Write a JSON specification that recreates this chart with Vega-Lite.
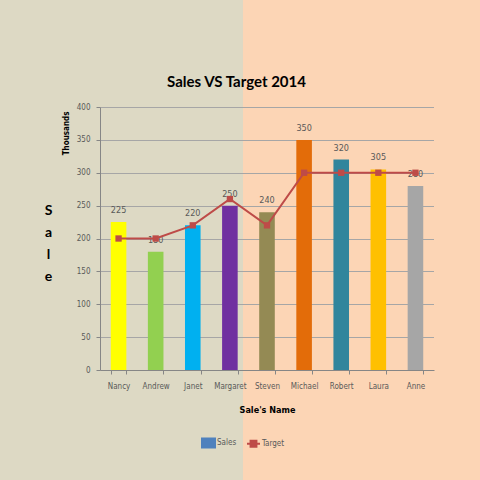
{
  "$schema": "https://vega.github.io/schema/vega-lite/v6.json",
  "width": 334,
  "height": 263,
  "autosize": {"type": "none"},
  "padding": {"left": 100, "top": 107, "right": 46, "bottom": 110},
  "background": "#DDD9C4",
  "config": {
    "view": {
      "stroke": null,
      "fill": {
        "gradient": "linear",
        "x1": 0, "y1": 0, "x2": 1, "y2": 0,
        "stops": [
          {"offset": 0, "color": "#DDD9C4"},
          {"offset": 0.428, "color": "#DDD9C4"},
          {"offset": 0.428, "color": "#FCD5B5"},
          {"offset": 1, "color": "#FCD5B5"}
        ]
      }
    },
    "axis": {
      "labelFont": "'DejaVu Sans Condensed', Roboto",
      "labelFontSize": 8,
      "labelColor": "#595959",
      "titleFont": "'DejaVu Sans Condensed', Roboto",
      "titleColor": "#000000",
      "domainColor": "#868686",
      "tickColor": "#868686",
      "gridColor": "#A6A6A6"
    },
    "legend": {
      "labelFont": "'DejaVu Sans Condensed', Roboto",
      "labelFontSize": 8,
      "labelColor": "#595959"
    }
  },
  "datasets": {
    "sales": [
      {"name": "Nancy", "sales": 225, "target": 200},
      {"name": "Andrew", "sales": 180, "target": 200},
      {"name": "Janet", "sales": 220, "target": 220},
      {"name": "Margaret", "sales": 250, "target": 260},
      {"name": "Steven", "sales": 240, "target": 220},
      {"name": "Michael", "sales": 350, "target": 300},
      {"name": "Robert", "sales": 320, "target": 300},
      {"name": "Laura", "sales": 305, "target": 300},
      {"name": "Anne", "sales": 280, "target": 300}
    ],
    "panel": [{"part": "background"}]
  },
  "layer": [
    {
      "data": {"name": "panel"},
      "layer": [
        {
          "mark": {"type": "rect", "color": "#FCD5B5", "clip": false},
          "encoding": {
            "x": {"datum": 0.428, "type": "quantitative", "scale": {"domain": [0, 1]},
              "axis": {"orient": "top", "title": "Sales VS Target 2014", "titleFont": "Lato", "titleFontSize": 15, "titleFontWeight": "bold", "titleX": 136, "titlePadding": 18, "labels": false, "ticks": false, "domain": false, "grid": false, "zindex": 2}},
            "x2": {"datum": 5},
            "y": {"datum": 1, "type": "quantitative", "scale": {"domain": [0, 1]},
              "axis": {"orient": "left", "title": ["S", "a", "l", "e"], "titleAngle": 0, "titleFont": "Lato", "titleFontSize": 14, "titleFontWeight": "bold", "titleLineHeight": 22, "titleAlign": "center", "titleBaseline": "middle", "titleX": -52, "titleY": 103, "labels": false, "ticks": false, "domain": false, "grid": false, "zindex": 2}},
            "y2": {"datum": 5}
          }
        },
        {
          "mark": {"type": "rect", "color": "#FCD5B5", "clip": false},
          "encoding": {
            "x": {"datum": 0.428, "type": "quantitative",
              "axis": {"orient": "top", "title": "Sales VS Target 2014", "titleFont": "Lato", "titleFontSize": 15, "titleFontWeight": "bold", "titleX": 136, "titlePadding": 18, "labels": false, "ticks": false, "domain": false, "grid": false, "zindex": 2}},
            "x2": {"datum": 5},
            "y": {"datum": -5, "type": "quantitative",
              "axis": {"orient": "left", "title": ["S", "a", "l", "e"], "titleAngle": 0, "titleFont": "Lato", "titleFontSize": 14, "titleFontWeight": "bold", "titleLineHeight": 22, "titleAlign": "center", "titleBaseline": "middle", "titleX": -52, "titleY": 103, "labels": false, "ticks": false, "domain": false, "grid": false, "zindex": 2}},
            "y2": {"datum": 0}
          }
        },
        {
          "mark": {"type": "rect", "color": "#FCD5B5", "clip": false},
          "encoding": {
            "x": {"datum": 1, "type": "quantitative",
              "axis": {"orient": "top", "title": "Sales VS Target 2014", "titleFont": "Lato", "titleFontSize": 15, "titleFontWeight": "bold", "titleX": 136, "titlePadding": 18, "labels": false, "ticks": false, "domain": false, "grid": false, "zindex": 2}},
            "x2": {"datum": 5},
            "y": {"datum": 0, "type": "quantitative",
              "axis": {"orient": "left", "title": ["S", "a", "l", "e"], "titleAngle": 0, "titleFont": "Lato", "titleFontSize": 14, "titleFontWeight": "bold", "titleLineHeight": 22, "titleAlign": "center", "titleBaseline": "middle", "titleX": -52, "titleY": 103, "labels": false, "ticks": false, "domain": false, "grid": false, "zindex": 2}},
            "y2": {"datum": 1}
          }
        }
      ]
    },
    {
      "data": {"name": "sales"},
      "encoding": {
        "x": {
          "field": "name",
          "type": "nominal",
          "sort": null,
          "scale": {"paddingInner": 0.58, "paddingOuter": 0.29},
          "axis": {
            "orient": "bottom",
            "title": "Sale's Name",
            "titleFontSize": 9,
            "titleFontWeight": "bold",
            "titlePadding": 15,
            "labelAngle": 0,
            "labelPadding": 8,
            "tickBand": "extent",
            "tickSize": 4,
            "zindex": 1
          }
        }
      },
      "layer": [
        {
          "mark": {"type": "bar"},
          "encoding": {
            "y": {
              "field": "sales",
              "type": "quantitative",
              "scale": {"domain": [0, 400]},
              "axis": {"orient": "left", "values": [0, 50, 100, 150, 200, 250, 300, 350, 400], "labelOverlap": false, "title": "Thousands", "titleFontSize": 8, "titleFontWeight": "bold", "titleAnchor": "end", "titleY": 4, "titlePadding": 6, "tickSize": 4, "labelPadding": 6, "grid": true, "zindex": 0}
            },
            "fill": {
              "field": "name",
              "type": "nominal",
              "scale": {
                "domain": ["Nancy", "Andrew", "Janet", "Margaret", "Steven", "Michael", "Robert", "Laura", "Anne"],
                "range": ["#FFFF00", "#92D050", "#00B0F0", "#7030A0", "#948A54", "#E36C09", "#31859C", "#FFC000", "#A6A6A6"]
              },
              "legend": null
            }
          }
        },
        {
          "mark": {"type": "text", "dy": -12, "font": "'DejaVu Sans Condensed', Roboto", "fontSize": 9, "color": "#595959"},
          "encoding": {
            "y": {
              "field": "sales",
              "type": "quantitative",
              "axis": {"orient": "left", "values": [0, 50, 100, 150, 200, 250, 300, 350, 400], "labelOverlap": false, "title": "Thousands", "titleFontSize": 8, "titleFontWeight": "bold", "titleAnchor": "end", "titleY": 4, "titlePadding": 6, "tickSize": 4, "labelPadding": 6, "grid": true, "zindex": 0}
            },
            "text": {"field": "sales", "type": "quantitative"}
          }
        },
        {
          "mark": {"type": "line", "strokeWidth": 2},
          "encoding": {
            "y": {
              "field": "target",
              "type": "quantitative",
              "axis": {"orient": "left", "values": [0, 50, 100, 150, 200, 250, 300, 350, 400], "labelOverlap": false, "title": "Thousands", "titleFontSize": 8, "titleFontWeight": "bold", "titleAnchor": "end", "titleY": 4, "titlePadding": 6, "tickSize": 4, "labelPadding": 6, "grid": true, "zindex": 0}
            },
            "stroke": {
              "datum": "Target",
              "type": "nominal",
              "scale": {"domain": ["Sales", "Target"], "range": ["#4F81BD", "#BE4B48"]},
              "legend": {
                "title": null,
                "orient": "none",
                "direction": "horizontal",
                "legendX": 101,
                "legendY": 328,
                "symbolSize": 169,
                "labelOffset": 1,
                "columnPadding": 6,
                "encode": {
                  "symbols": {
                    "update": {
                      "shape": {"signal": "datum.label === 'Sales' ? 'M-1,-0.7H1V0.7H-1Z' : 'M-1,0H1M-0.45,-0.45H0.45V0.45H-0.45Z'"},
                      "fill": {"signal": "datum.label === 'Sales' ? '#4F81BD' : '#BE4B48'"},
                      "stroke": {"signal": "datum.label === 'Sales' ? '#4F81BD' : '#BE4B48'"},
                      "strokeWidth": {"value": 2}
                    }
                  }
                }
              }
            }
          }
        },
        {
          "mark": {"type": "point", "shape": "square", "filled": true, "size": 40, "color": "#BE4B48", "opacity": 1},
          "encoding": {
            "y": {
              "field": "target",
              "type": "quantitative",
              "axis": {"orient": "left", "values": [0, 50, 100, 150, 200, 250, 300, 350, 400], "labelOverlap": false, "title": "Thousands", "titleFontSize": 8, "titleFontWeight": "bold", "titleAnchor": "end", "titleY": 4, "titlePadding": 6, "tickSize": 4, "labelPadding": 6, "grid": true, "zindex": 0}
            }
          }
        }
      ]
    }
  ],
  "resolve": {
    "scale": {"x": "independent", "y": "independent"},
    "axis": {"x": "independent", "y": "independent"}
  }
}
